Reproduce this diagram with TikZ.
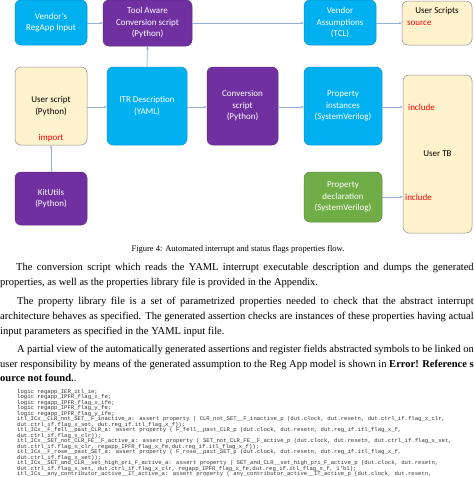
\documentclass[tikz,border=0pt]{standalone}
\usepackage{fontspec}
\setmainfont{Liberation Serif}
\newfontfamily\boxfont{Carlito}
\newfontfamily\codefont{Liberation Mono}
\usetikzlibrary{arrows.meta}
\definecolor{cyanbox}{RGB}{0,176,240}
\definecolor{purplebox}{RGB}{112,48,160}
\definecolor{greenbox}{RGB}{112,173,71}
\definecolor{yellowbox}{RGB}{255,242,204}
\definecolor{yellowline}{RGB}{140,140,140}
\definecolor{arrowcol}{RGB}{150,175,215}
\definecolor{redtext}{RGB}{255,0,0}
\begin{document}
\begin{tikzpicture}[x=1pt,y=-1pt,
  box/.style={rounded corners=6pt, inner sep=1pt, align=center,
    font=\boxfont\fontsize{9}{11.5}\selectfont, line width=0.5pt},
  cbox/.style={box, fill=cyanbox, draw=cyanbox!85!black, text=white},
  pbox/.style={box, fill=purplebox, draw=purplebox!85!black, text=white},
  gbox/.style={box, fill=greenbox, draw=greenbox!80!black, text=white},
  ybox/.style={box, fill=yellowbox, draw=yellowline, text=black},
  flow/.style={draw=arrowcol, line width=0.7pt, -{Stealth[length=3pt,width=2.6pt]}},
  redlbl/.style={text=redtext, font=\boxfont\fontsize{9}{11}\selectfont, inner sep=0pt},
  blacklbl/.style={text=black, font=\boxfont\fontsize{9}{11}\selectfont, inner sep=0pt},
  bodyline/.style={inner sep=0pt, anchor=base west, font=\fontsize{10.5}{12}\selectfont},
  codeline/.style={inner sep=0pt, anchor=base west, text=black!80, font=\codefont\fontsize{5.6}{5.5}\selectfont},
]
\useasboundingbox (0,0) rectangle (474,477);
\fill[white] (0,0) rectangle (474,477);
\clip (0,0) rectangle (474,477);

% ---- diagram boxes ----
\node[cbox, minimum width=72pt, minimum height=45pt] (vendor) at (51,22.5) {Vendor’s\\RegApp Input};
\node[pbox, minimum width=89pt, minimum height=46pt] (tool) at (147.5,23) {Tool Aware\\Conversion script\\(Python)};
\node[cbox, minimum width=72pt, minimum height=45pt] (vassume) at (340,22.5) {Vendor\\Assumptions\\(TCL)};
\node[ybox, minimum width=70pt, minimum height=44pt] (uscripts) at (437,23) {};
\node[blacklbl] (uscriptslbl) at (437,11) {User Scripts};
\node[redlbl, anchor=west] (source) at (407,23) {source};

\node[ybox, minimum width=72pt, minimum height=78pt] (userscript) at (51,106) {User script\\(Python)};
\node[redlbl] (import) at (51,138) {import};
\node[cbox, minimum width=80pt, minimum height=78pt] (itr) at (147,106) {ITR Description\\(YAML)};
\node[pbox, minimum width=71pt, minimum height=78pt] (conv) at (242.5,106) {Conversion\\script\\(Python)};
\node[cbox, minimum width=78pt, minimum height=78pt] (pinst) at (343,106) {Property\\instances\\(SystemVerilog)};
\node[ybox, minimum width=69pt, minimum height=158pt] (usertb) at (437.5,154) {User TB};
\node[redlbl, anchor=west] (inc1) at (408,107) {include};
\node[redlbl, anchor=west] (inc2) at (405,197) {include};

\node[pbox, minimum width=72pt, minimum height=53pt] (kit) at (51,198.5) {KitUtils\\(Python)};
\node[gbox, minimum width=78pt, minimum height=50pt] (pdecl) at (343,197) {Property\\declaration\\(SystemVerilog)};

% ---- connectors ----
\draw[flow] (vendor.east |- 0,23) -- (tool.west |- 0,23);
\draw[flow] (tool.east |- 0,23) -- (vassume.west |- 0,23);
\draw[flow] (vassume.east |- source) -- (uscripts.west |- source);
\draw[flow] (itr.north) -- (tool.south);
\draw[flow] (userscript.east |- inc1) -- (itr.west |- inc1);
\draw[flow] (itr.east |- inc1) -- (conv.west |- inc1);
\draw[flow] (conv.east |- inc1) -- (pinst.west |- inc1);
\draw[flow] (pinst.east |- inc1) -- (usertb.west |- inc1);
\draw[flow] (pdecl.east |- inc2) -- (usertb.west |- inc2);
\draw[flow] (kit.north) -- (userscript.south);

% ---- caption ----
\node[inner sep=0pt, anchor=base, font=\fontsize{8.5}{10}\selectfont] (caption) at (238,251) {Figure 4: Automated interrupt and status flags properties flow.};

% ---- body text ----
\node[bodyline] (p1a) at (16,270) {\makebox[457.5pt][s]{The conversion script which reads the YAML interrupt executable description and dumps the generated}};
\node[bodyline] (p1b) at (0,285) {properties, as well as the properties library file is provided in the Appendix.};
\node[bodyline] (p2a) at (17,304) {\makebox[456.5pt][s]{The property library file is a set of parametrized properties needed to check that the abstract interrupt}};
\node[bodyline] (p2b) at (0,319) {\makebox[473.5pt][s]{architecture behaves as specified. The generated assertion checks are instances of these properties having actual}};
\node[bodyline] (p2c) at (0,334) {input parameters as specified in the YAML input file.};
\node[bodyline] (p3a) at (17,352) {\makebox[456.5pt][s]{A partial view of the automatically generated assertions and register fields abstracted symbols to be linked on}};
\node[bodyline] (p3b) at (0,367) {\makebox[473.5pt][s]{user responsibility by means of the generated assumption to the Reg App model is shown in \textbf{Error! Reference s}}};
\node[bodyline] (p3c) at (0,381) {\textbf{ource not found.}.};

% ---- code ----
\node[codeline] (c1) at (17,393) {logic regapp\_IER\_itl\_ie;};
\node[codeline] (c2) at (17,398.5) {logic regapp\_IPFR\_flag\_x\_fe;};
\node[codeline] (c3) at (17,404) {logic regapp\_IPFR\_flag\_x\_ife;};
\node[codeline] (c4) at (17,409.5) {logic regapp\_IPFR\_flag\_y\_fe;};
\node[codeline] (c5) at (17,415) {logic regapp\_IPFR\_flag\_y\_ife;};
\node[codeline] (c6) at (17,420.5) {itl\_ICx\_\_CLR\_not\_SET\_\_F\_inactive\_a: assert property ( CLR\_not\_SET\_\_F\_inactive\_p (dut.clock, dut.resetn, dut.ctrl\_if.flag\_x\_clr,};
\node[codeline] (c7) at (17,426) {dut.ctrl\_if.flag\_x\_set, dut.reg\_if.itl\_flag\_x\_f));};
\node[codeline] (c8) at (17,431.5) {itl\_ICx\_\_F\_fell\_\_past\_CLR\_a: assert property ( F\_fell\_\_past\_CLR\_p (dut.clock, dut.resetn, dut.reg\_if.itl\_flag\_x\_f,};
\node[codeline] (c9) at (17,437) {dut.ctrl\_if.flag\_x\_clr));};
\node[codeline] (c10) at (17,442.5) {itl\_ICx\_\_SET\_not\_CLR\_FE\_\_F\_active\_a: assert property ( SET\_not\_CLR\_FE\_\_F\_active\_p (dut.clock, dut.resetn, dut.ctrl\_if.flag\_x\_set,};
\node[codeline] (c11) at (17,448) {dut.ctrl\_if.flag\_x\_clr, regapp\_IPFR\_flag\_x\_fe,dut.reg\_if.itl\_flag\_x\_f));};
\node[codeline] (c12) at (17,453.5) {itl\_ICx\_\_F\_rose\_\_past\_SET\_a: assert property ( F\_rose\_\_past\_SET\_p (dut.clock, dut.resetn, dut.reg\_if.itl\_flag\_x\_f,};
\node[codeline] (c13) at (17,459) {dut.ctrl\_if.flag\_x\_set));};
\node[codeline] (c14) at (17,464.5) {itl\_ICx\_\_SET\_and\_CLR\_\_set\_high\_pri\_F\_active\_a: assert property ( SET\_and\_CLR\_\_set\_high\_pri\_F\_active\_p (dut.clock, dut.resetn,};
\node[codeline] (c15) at (17,470) {dut.ctrl\_if.flag\_x\_set, dut.ctrl\_if.flag\_x\_clr, regapp\_IPFR\_flag\_x\_fe,dut.reg\_if.itl\_flag\_x\_f, 1'b1);};
\node[codeline] (c16) at (17,475.5) {itl\_ICx\_\_any\_contributor\_active\_\_IT\_active\_a: assert property ( any\_contributor\_active\_\_IT\_active\_p (dut.clock, dut.resetn,};
\end{tikzpicture}
\end{document}
